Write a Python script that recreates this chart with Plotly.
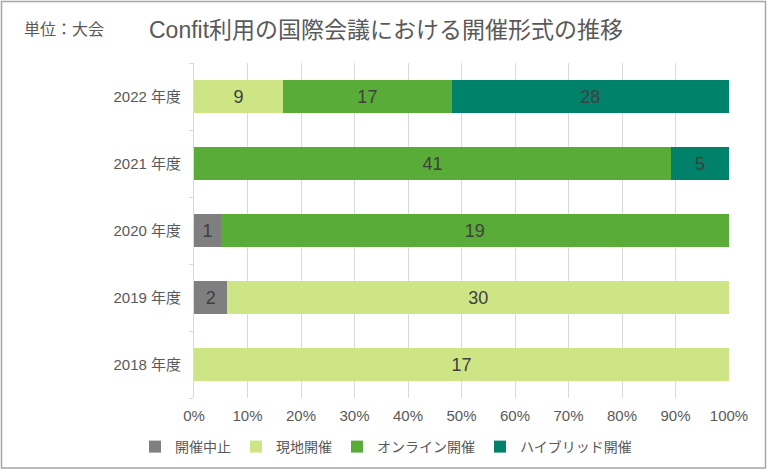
import plotly.graph_objects as go

categories = ["2018 年度", "2019 年度", "2020 年度", "2021 年度", "2022 年度"]
series_names = ["開催中止", "現地開催", "オンライン開催", "ハイブリッド開催"]
cancelled = [0, 2, 1, 0, 0]
onsite = [17, 30, 0, 0, 9]
online = [0, 0, 19, 41, 17]
hybrid = [0, 0, 0, 5, 28]
colors = ["#7f7f7f", "#cde584", "#5aac38", "#00826a"]
x_ticks = [0, 10, 20, 30, 40, 50, 60, 70, 80, 90, 100]

W, H = 768, 471
ML, MR, MT, MB = 194, 39, 63, 73
PW, PH = W - ML - MR, H - MT - MB

FONT = "Liberation Sans, Arial, Noto Sans CJK JP, sans-serif"

fig = go.Figure()
for name, vals, col in zip(series_names, [cancelled, onsite, online, hybrid], colors):
    fig.add_trace(go.Bar(
        y=categories, x=vals, name=name, orientation="h",
        marker=dict(color=col, line=dict(width=0)),
        text=[str(v) if v else "" for v in vals],
        textposition="inside", insidetextanchor="middle",
        textfont=dict(color="#404040", size=18, family=FONT),
        width=0.48, hoverinfo="skip",
    ))

def px_x(p):
    return (p - ML) / PW

def px_y(p):
    return (H - MB - p) / PH

fig.update_layout(
    width=W, height=H,
    barmode="stack", barnorm="percent",
    margin=dict(l=ML, r=MR, t=MT, b=MB, autoexpand=False),
    paper_bgcolor="white", plot_bgcolor="white",
    font=dict(family=FONT, color="#595959", size=15),
    showlegend=True,
    legend=dict(orientation="h", x=386 / W, y=1 - 447 / H, xref="container", yref="container",
                xanchor="center", yanchor="middle",
                font=dict(size=14, color="#595959"), traceorder="normal",
                itemwidth=30, tracegroupgap=0),
    xaxis=dict(range=[0, 100], tickvals=x_ticks, ticktext=[f"{v}%" for v in x_ticks],
               showgrid=True, gridcolor="#d9d9d9", gridwidth=1, zeroline=False,
               showline=False, ticks="", tickfont=dict(size=15, color="#595959"),
               ticklabelstandoff=7, automargin=False, fixedrange=True),
    yaxis=dict(showgrid=False, showline=True, linecolor="#d9d9d9", linewidth=1,
               ticks="outside", tickson="boundaries", ticklen=4, tickcolor="#d9d9d9",
               tickfont=dict(size=15, color="#595959"), ticklabelstandoff=9,
               automargin=False, range=[-0.5, 4.5]),
    annotations=[
        dict(text="単位：大会", x=px_x(22), y=px_y(29), xref="paper", yref="paper",
             xanchor="left", yanchor="middle", showarrow=False,
             font=dict(size=16, color="#595959")),
        dict(text="Confit利用の国際会議における開催形式の推移", x=px_x(147), y=px_y(30),
             xref="paper", yref="paper", xanchor="left", yanchor="middle", showarrow=False,
             font=dict(size=23, color="#595959")),
    ],
    shapes=[
        dict(type="rect", xref="paper", yref="paper",
             x0=px_x(1.5), x1=px_x(765.5), y0=px_y(1.5), y1=px_y(468),
             line=dict(color="#a6a6a6", width=1.5), layer="above"),
    ],
)

fig.write_html("out.html")
